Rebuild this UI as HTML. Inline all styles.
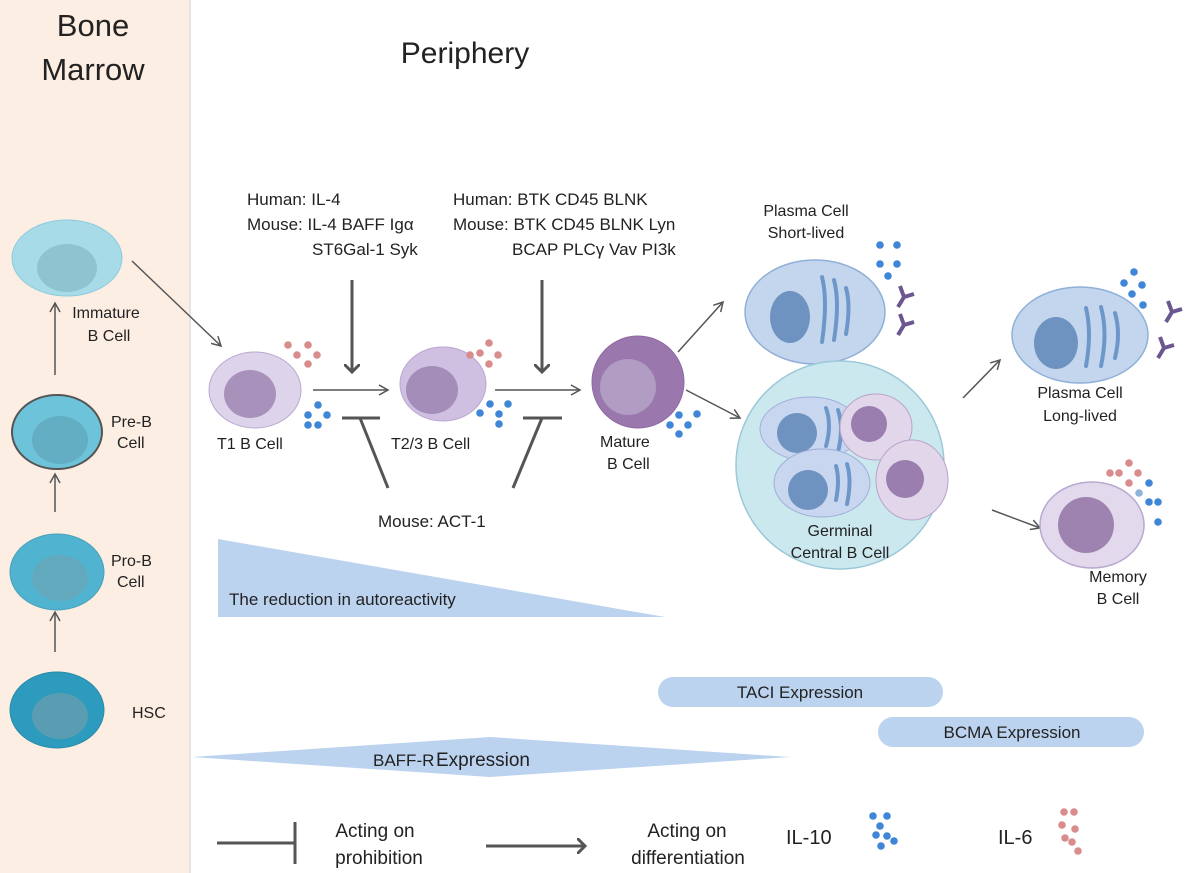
<!DOCTYPE html>
<html><head><meta charset="utf-8"><style>
html,body{margin:0;padding:0;background:#fff}
svg{display:block}
text{font-family:"Liberation Sans",sans-serif;fill:#222}
</style></head><body>
<svg width="1200" height="873" viewBox="0 0 1200 873" xmlns="http://www.w3.org/2000/svg">
<defs>
<marker id="ah" markerWidth="12" markerHeight="12" refX="10" refY="6" orient="auto" markerUnits="userSpaceOnUse">
<path d="M1,1 L10,6 L1,11" fill="none" stroke="#555" stroke-width="1.5"/></marker>
<marker id="ahb" markerWidth="16" markerHeight="16" refX="8" refY="8" orient="auto" markerUnits="userSpaceOnUse">
<path d="M0,0 L8,8 L0,16" fill="none" stroke="#555" stroke-width="3"/></marker>
<g id="bd"><circle r="3.8" fill="#3f86d6"/></g>
<g id="pd"><circle r="3.8" fill="#d98c8c"/></g>
<g id="ab"><path d="M0,0 L-6,10 M0,0 L-4,-11 M0,0 L10,-3" stroke="#6b5690" stroke-width="4" fill="none"/></g>
</defs>
<rect x="0" y="0" width="190" height="873" fill="#fdeee4"/>
<line x1="190" y1="0" x2="190" y2="873" stroke="#ddd" stroke-width="1.5"/>
<text x="93" y="36" font-size="31" text-anchor="middle">Bone</text>
<text x="93" y="80" font-size="31" text-anchor="middle">Marrow</text>
<text x="465" y="63" font-size="30" text-anchor="middle">Periphery</text>

<ellipse cx="67" cy="258" rx="55" ry="38" fill="#a8dbe8" stroke="#8ccbdc"/>
<ellipse cx="67" cy="268" rx="30" ry="24" fill="#8ec3d0"/>
<text x="106" y="318" font-size="16" text-anchor="middle">Immature</text>
<text x="109" y="341" font-size="16" text-anchor="middle">B Cell</text>
<ellipse cx="57" cy="432" rx="45" ry="37" fill="#6cc3da" stroke="#555" stroke-width="2"/>
<ellipse cx="60" cy="440" rx="28" ry="24" fill="#64aec4"/>
<text x="111" y="427" font-size="16">Pre-B</text>
<text x="117" y="448" font-size="16">Cell</text>
<ellipse cx="57" cy="572" rx="47" ry="38" fill="#50b3cf" stroke="#4aa0b8"/>
<ellipse cx="60" cy="578" rx="28" ry="23" fill="#63a9bd"/>
<text x="111" y="566" font-size="16">Pro-B</text>
<text x="117" y="587" font-size="16">Cell</text>
<ellipse cx="57" cy="710" rx="47" ry="38" fill="#2c9bbd" stroke="#2a8aa8"/>
<ellipse cx="60" cy="716" rx="28" ry="23" fill="#5a9db3"/>
<text x="132" y="718" font-size="16">HSC</text>
<g stroke="#555" stroke-width="1.5" fill="none" marker-end="url(#ah)">
<line x1="55" y1="375" x2="55" y2="303"/>
<line x1="55" y1="512" x2="55" y2="474"/>
<line x1="55" y1="652" x2="55" y2="612"/>
<line x1="132" y1="261" x2="221" y2="346"/>
</g>

<g font-size="17">
<text x="247" y="205">Human: IL-4</text>
<text x="247" y="230">Mouse: IL-4 BAFF Igα</text>
<text x="312" y="255">ST6Gal-1 Syk</text>
<text x="453" y="205">Human: BTK  CD45 BLNK</text>
<text x="453" y="230">Mouse: BTK CD45 BLNK Lyn</text>
<text x="512" y="255">BCAP PLCγ Vav PI3k</text>
</g>
<g stroke="#555" stroke-width="3" fill="none" marker-end="url(#ahb)">
<line x1="352" y1="280" x2="352" y2="372"/>
<line x1="542" y1="280" x2="542" y2="372"/>
</g>
<g stroke="#555" stroke-width="1.5" fill="none" marker-end="url(#ah)">
<line x1="313" y1="390" x2="388" y2="390"/>
<line x1="495" y1="390" x2="580" y2="390"/>
<line x1="678" y1="352" x2="723" y2="302"/>
<line x1="686" y1="390" x2="740" y2="418"/>
<line x1="963" y1="398" x2="1000" y2="360"/>
<line x1="992" y1="510" x2="1040" y2="528"/>
</g>
<g stroke="#555" stroke-width="3" fill="none">
<line x1="342" y1="418" x2="380" y2="418"/><line x1="360" y1="418" x2="388" y2="488"/>
<line x1="523" y1="418" x2="562" y2="418"/><line x1="542" y1="418" x2="513" y2="488"/>
</g>
<text x="378" y="527" font-size="17">Mouse: ACT-1</text>

<ellipse cx="255" cy="390" rx="46" ry="38" fill="#ddd3ea" stroke="#b9a8d0"/>
<ellipse cx="250" cy="394" rx="26" ry="24" fill="#a892bb"/>
<text x="217" y="449" font-size="16">T1 B Cell</text>
<use href="#pd" x="288" y="345"/><use href="#pd" x="308" y="345"/><use href="#pd" x="297" y="355"/><use href="#pd" x="317" y="355"/><use href="#pd" x="308" y="364"/>
<use href="#bd" x="318" y="405"/><use href="#bd" x="327" y="415"/><use href="#bd" x="308" y="415"/><use href="#bd" x="308" y="425"/><use href="#bd" x="318" y="425"/>
<ellipse cx="443" cy="384" rx="43" ry="37" fill="#cfbfe0" stroke="#b9a8d0"/>
<ellipse cx="432" cy="390" rx="26" ry="24" fill="#a48db8"/>
<text x="391" y="449" font-size="16">T2/3 B Cell</text>
<use href="#pd" x="489" y="343"/><use href="#pd" x="480" y="353"/><use href="#pd" x="470" y="355"/><use href="#pd" x="498" y="355"/><use href="#pd" x="489" y="364"/>
<use href="#bd" x="490" y="404"/><use href="#bd" x="508" y="404"/><use href="#bd" x="480" y="413"/><use href="#bd" x="499" y="414"/><use href="#bd" x="499" y="424"/>
<circle cx="638" cy="382" r="46" fill="#9a77ad" stroke="#8e6aa2"/>
<circle cx="628" cy="387" r="28" fill="#b19cc3"/>
<text x="600" y="447" font-size="16">Mature</text>
<text x="607" y="469" font-size="16">B Cell</text>
<use href="#bd" x="679" y="415"/><use href="#bd" x="697" y="414"/><use href="#bd" x="670" y="425"/><use href="#bd" x="688" y="425"/><use href="#bd" x="679" y="434"/>

<text x="806" y="216" font-size="16" text-anchor="middle">Plasma Cell</text>
<text x="806" y="238" font-size="16" text-anchor="middle">Short-lived</text>
<ellipse cx="815" cy="312" rx="70" ry="52" fill="#c3d6ee" stroke="#8fb0d8" stroke-width="1.5"/>
<ellipse cx="790" cy="317" rx="20" ry="26" fill="#6f93c0"/>
<g stroke="#6e97c9" stroke-width="4" stroke-linecap="round" fill="none">
<path d="M822,277 Q828,300 822,342"/><path d="M834,280 Q840,302 834,340"/><path d="M846,288 Q851,305 846,334"/></g>
<use href="#bd" x="880" y="245"/><use href="#bd" x="897" y="245"/><use href="#bd" x="880" y="264"/><use href="#bd" x="897" y="264"/><use href="#bd" x="888" y="276"/>
<use href="#ab" x="904" y="297"/><use href="#ab" x="904" y="325"/>

<ellipse cx="1080" cy="335" rx="68" ry="48" fill="#c3d6ee" stroke="#8fb0d8" stroke-width="1.5"/>
<ellipse cx="1056" cy="343" rx="22" ry="26" fill="#6f93c0"/>
<g stroke="#6e97c9" stroke-width="4" stroke-linecap="round" fill="none">
<path d="M1086,308 Q1092,333 1086,366"/><path d="M1101,307 Q1108,333 1101,366"/><path d="M1115,313 Q1121,333 1115,358"/></g>
<use href="#bd" x="1134" y="272"/><use href="#bd" x="1124" y="283"/><use href="#bd" x="1142" y="285"/><use href="#bd" x="1132" y="294"/><use href="#bd" x="1143" y="305"/>
<use href="#ab" x="1172" y="312"/><use href="#ab" x="1164" y="348"/>
<text x="1080" y="398" font-size="16" text-anchor="middle">Plasma Cell</text>
<text x="1080" y="421" font-size="16" text-anchor="middle">Long-lived</text>

<circle cx="840" cy="465" r="104" fill="#cbe8ef" stroke="#9cc8d8" stroke-width="1.5"/>
<ellipse cx="810" cy="429" rx="50" ry="32" fill="#c9d6ef" stroke="#9fb0d8"/>
<circle cx="797" cy="433" r="20" fill="#6f93c0"/>
<g stroke="#6e97c9" stroke-width="4" stroke-linecap="round" fill="none"><path d="M826,408 Q832,425 826,446"/><path d="M838,410 Q844,428 838,452"/></g>
<ellipse cx="876" cy="427" rx="36" ry="33" fill="#e2d6ea" stroke="#b9a3c8"/>
<circle cx="869" cy="424" r="18" fill="#9a7eb0"/>
<ellipse cx="822" cy="483" rx="48" ry="34" fill="#c9d6ef" stroke="#9fb0d8"/>
<circle cx="808" cy="490" r="20" fill="#6f93c0"/>
<g stroke="#6e97c9" stroke-width="4" stroke-linecap="round" fill="none"><path d="M836,466 Q840,480 836,500"/><path d="M847,464 Q852,480 847,504"/></g>
<ellipse cx="912" cy="480" rx="36" ry="40" fill="#e2d6ea" stroke="#b9a3c8"/>
<circle cx="905" cy="479" r="19" fill="#9a7eb0"/>
<text x="840" y="536" font-size="16" text-anchor="middle">Germinal</text>
<text x="840" y="558" font-size="16" text-anchor="middle">Central B Cell</text>

<ellipse cx="1092" cy="525" rx="52" ry="43" fill="#e2d9ec" stroke="#b9a8d0" stroke-width="1.5"/>
<circle cx="1086" cy="525" r="28" fill="#9e82b0"/>
<use href="#pd" x="1129" y="463"/><use href="#pd" x="1110" y="473"/><use href="#pd" x="1119" y="473"/><use href="#pd" x="1138" y="473"/><use href="#pd" x="1129" y="483"/>
<use href="#bd" x="1149" y="483"/><circle cx="1139" cy="493" r="3.8" fill="#8fb4da"/><use href="#bd" x="1149" y="502"/><use href="#bd" x="1158" y="502"/><use href="#bd" x="1158" y="522"/>
<text x="1118" y="582" font-size="16" text-anchor="middle">Memory</text>
<text x="1118" y="604" font-size="16" text-anchor="middle">B Cell</text>

<polygon points="218,539 218,617 665,617" fill="#bcd3ef"/>
<text x="229" y="605" font-size="17">The reduction in autoreactivity</text>
<rect x="658" y="677" width="285" height="30" rx="15" fill="#bcd3ef"/>
<text x="800" y="698" font-size="17" text-anchor="middle">TACI  Expression</text>
<rect x="878" y="717" width="266" height="30" rx="15" fill="#bcd3ef"/>
<text x="1012" y="738" font-size="17" text-anchor="middle">BCMA Expression</text>
<polygon points="192,757 490,737 790,757 490,777" fill="#bcd3ef"/>
<text x="373" y="766" font-size="17">BAFF-R</text><text x="436" y="766" font-size="19">Expression</text>

<g stroke="#555" stroke-width="3" fill="none">
<line x1="217" y1="843" x2="295" y2="843"/><line x1="295" y1="822" x2="295" y2="864"/>
<line x1="486" y1="846" x2="585" y2="846" marker-end="url(#ahb)"/>
</g>
<text x="375" y="837" font-size="19" text-anchor="middle">Acting on</text>
<text x="379" y="864" font-size="19" text-anchor="middle">prohibition</text>
<text x="687" y="837" font-size="19" text-anchor="middle">Acting on</text>
<text x="688" y="864" font-size="19" text-anchor="middle">differentiation</text>
<text x="786" y="844" font-size="20">IL-10</text>
<use href="#bd" x="873" y="816"/><use href="#bd" x="887" y="816"/><use href="#bd" x="880" y="826"/><use href="#bd" x="876" y="835"/><use href="#bd" x="887" y="836"/><use href="#bd" x="881" y="846"/><use href="#bd" x="894" y="841"/>
<text x="998" y="844" font-size="20">IL-6</text>
<use href="#pd" x="1064" y="812"/><use href="#pd" x="1074" y="812"/><use href="#pd" x="1062" y="825"/><use href="#pd" x="1075" y="829"/><use href="#pd" x="1065" y="838"/><use href="#pd" x="1072" y="842"/><use href="#pd" x="1078" y="851"/>
</svg>
</body></html>
